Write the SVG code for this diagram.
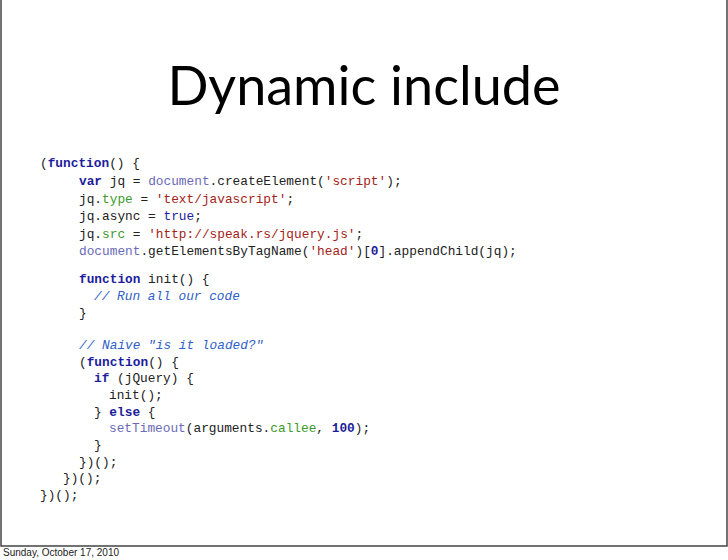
<svg xmlns="http://www.w3.org/2000/svg" width="728" height="560" viewBox="0 0 728 560">
<style>
.c{font-family:"Liberation Mono","DejaVu Sans Mono",monospace;font-size:12.8px;fill:#222;white-space:pre}
.k{fill:#1c1c9c;font-weight:bold}
.t{fill:#1c1c9c}
.d{fill:#6a6ab8}
.s{fill:#a3231a}
.p{fill:#3a9a2a}
.m{fill:#2f5fc8;font-style:italic}
</style>
<rect x="0" y="0" width="728" height="560" fill="#fff"/>
<path d="M1 0V546H727V0" fill="none" stroke="#444" stroke-width="1.5"/>
<text x="364" y="105" text-anchor="middle" font-family="Lato, 'Open Sans', sans-serif" font-size="54" fill="#000">Dynamic include</text>
<g id="code" class="c" transform="translate(0,4)">
<text x="40" y="163">(<tspan class="k">function</tspan>() {</text>
<text x="79" y="181"><tspan class="k">var</tspan> jq = <tspan class="d">document</tspan>.createElement(<tspan class="s">'script'</tspan>);</text>
<text x="79" y="199">jq.<tspan class="p">type</tspan> = <tspan class="s">'text/javascript'</tspan>;</text>
<text x="79" y="216">jq.async = <tspan class="t">true</tspan>;</text>
<text x="79" y="234">jq.<tspan class="p">src</tspan> = <tspan class="s">'http://speak.rs/jquery.js'</tspan>;</text>
<text x="79" y="251"><tspan class="d">document</tspan>.getElementsByTagName(<tspan class="s">'head'</tspan>)[<tspan class="k">0</tspan>].appendChild(jq);</text>
<text x="79" y="279"><tspan class="k">function</tspan> init() {</text>
<text x="94" y="296" class="c m">// Run all our code</text>
<text x="79" y="313">}</text>
<text x="79" y="345" class="c m">// Naive "is it loaded?"</text>
<text x="79" y="362">(<tspan class="k">function</tspan>() {</text>
<text x="94" y="378"><tspan class="k">if</tspan> (jQuery) {</text>
<text x="109" y="395">init();</text>
<text x="94" y="412">} <tspan class="k">else</tspan> {</text>
<text x="109" y="428"><tspan class="d">setTimeout</tspan>(arguments.<tspan class="p">callee</tspan>, <tspan class="k">100</tspan>);</text>
<text x="94" y="445">}</text>
<text x="79" y="462">})();</text>
<text x="63" y="478">})();</text>
<text x="40" y="495">})();</text>
</g>
<text x="3" y="556" font-family="'Liberation Sans', Arial, sans-serif" font-size="10" fill="#222">Sunday, October 17, 2010</text>
</svg>
